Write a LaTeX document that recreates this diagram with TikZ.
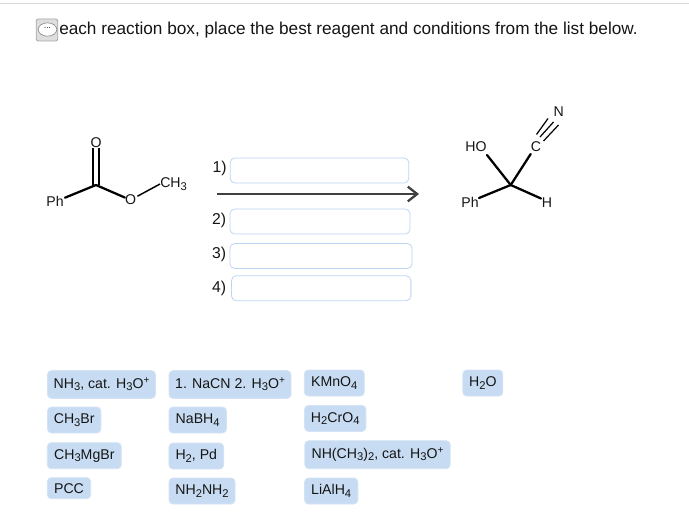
\documentclass[tikz,border=0pt]{standalone}
\usepackage{fontspec}
\setmainfont{Liberation Sans}
\usetikzlibrary{arrows.meta,calc,shapes.geometric}
\newcommand{\sbs}[1]{\raisebox{-0.32ex}{\fontsize{8.4}{9}\selectfont #1}}
\newcommand{\sps}[1]{\raisebox{0.62ex}{\fontsize{7.5}{9}\selectfont #1}}
\definecolor{chipfill}{HTML}{C7DCF2}
\definecolor{chipedge}{HTML}{D3E3F5}
\definecolor{boxedge}{HTML}{BBD7F2}
\definecolor{inktext}{HTML}{151515}
\tikzset{
  chip/.style={draw=chipedge,fill=chipfill,rounded corners=3pt,line width=0.6pt,inner sep=0pt,text=inktext,font=\fontsize{10.6}{12}\selectfont,anchor=center},
  slotbox/.style={draw=boxedge,fill=white,rounded corners=3.5pt,line width=0.6pt,inner sep=0pt,anchor=center},
  numlabel/.style={font=\fontsize{11.8}{13}\selectfont,text=inktext,inner sep=0pt,anchor=center},
  atom/.style={font=\fontsize{10.6}{11}\selectfont,text=inktext,inner sep=0pt,anchor=center},
  bond/.style={line width=1.7pt,draw=black},
  thinbond/.style={line width=0.9pt,draw=black},
  rxnarrow/.style={line width=1.7pt,draw=black!75,-{Straight Barb[length=7pt,width=11pt,line width=1.7pt]}},
}
\begin{document}
\begin{tikzpicture}[x=0.75pt,y=-0.75pt]
\useasboundingbox (0,0) rectangle (689,528);
\fill[white] (0,0) rectangle (689,528);
\fill[black!14] (0,3) rectangle (689,4.2);
% header icon
\node[draw=black!35,fill=black!13,rounded corners=1.5pt,line width=0.6pt,minimum width=16pt,minimum height=16.5pt,inner sep=0pt] (icon) at (47,30) {};
\node[draw=black!45,fill=white,ellipse,minimum width=14pt,minimum height=10pt,inner sep=0pt,line width=0.5pt,font=\fontsize{6}{6}\selectfont] (bubble) at (47.5,29.5) {\raisebox{0.6ex}{...}};
\node[anchor=base west,inner sep=0pt,font=\fontsize{12.9}{14}\selectfont,text=inktext] (title) at (59,34.5) {each reaction box, place the best reagent and conditions from the list below.};
% left molecule
\coordinate (cl) at (96,185);
\node[atom] (ph1) at (55,201) {Ph};
\node[atom] (otop) at (96,142.5) {O};
\node[atom] (oest) at (130.5,200) {O};
\node[atom,anchor=west] (ch3) at (160,184) {CH\sbs{3}};
\coordinate (ph1e) at (65,197.7);
\draw[bond,line cap=round] (ph1e) -- (cl);
\draw[bond,line cap=round] (cl) -- (oest);
\draw[thinbond,line width=1.1pt,shorten <=1pt] (oest) -- (ch3.west);
\draw[bond] ([xshift=-2.5pt]cl) -- ([xshift=-2.5pt]otop.south);
\draw[bond] ([xshift=2.5pt]cl) -- ([xshift=2.5pt]otop.south);
% right molecule
\coordinate (cr) at (510.7,185);
\node[atom] (ho) at (476,146.5) {HO};
\node[atom] (cn) at (536,146.5) {C};
\node[atom] (nn) at (558.7,112) {N};
\node[atom] (ph2) at (470,202) {Ph};
\node[atom] (hh) at (547,202.5) {H};
\coordinate (hoe) at (487,155);
\coordinate (cne) at (530.7,154);
\coordinate (ph2e) at (479,198);
\coordinate (hhe) at (541,198.5);
\draw[bond,line cap=round] (cr) -- (hoe);
\draw[bond,line cap=round] (cr) -- (cne);
\draw[bond,line cap=round] (cr) -- (ph2e);
\draw[bond,line cap=round] (cr) -- (hhe);
\coordinate (t1a) at (536.5,134.5);
\coordinate (t1b) at (548,118.5);
\coordinate (t2a) at (540,137);
\coordinate (t2b) at (553.5,122);
\coordinate (t3a) at (543.5,141);
\coordinate (t3b) at (558.5,125);
\draw[thinbond] (t1a) -- (t1b);
\draw[thinbond] (t2a) -- (t2b);
\draw[thinbond] (t3a) -- (t3b);
% reaction arrow and slots
\coordinate (arrs) at (217,194);
\coordinate (arre) at (419,194);
\draw[rxnarrow] (arrs) -- (arre);
\node[slotbox,minimum width=134pt,minimum height=18.7pt] (s1) at (319.5,170.5) {};
\node[slotbox,minimum width=135pt,minimum height=18.7pt] (s2) at (320,221.5) {};
\node[slotbox,minimum width=136.5pt,minimum height=18.7pt] (s3) at (321,256) {};
\node[slotbox,minimum width=134.5pt,minimum height=18.7pt] (s4) at (321.2,288.3) {};
\node[numlabel] (n1) at (219.5,168) {1)};
\node[numlabel] (n2) at (219,220.5) {2)};
\node[numlabel] (n3) at (219,254.5) {3)};
\node[numlabel] (n4) at (219,288.5) {4)};
% chips
\node[chip,minimum width=81pt,minimum height=20.8pt] (a1) at (101.5,384.5) {NH\sbs{3}, cat. H\sbs{3}O\sps{+}};
\node[chip,minimum width=91.5pt,minimum height=20.8pt] (b1) at (230,384.5) {1. NaCN 2. H\sbs{3}O\sps{+}};
\node[chip,minimum width=45pt,minimum height=19.5pt] (c1) at (334.3,383) {KMnO\sbs{4}};
\node[chip,minimum width=30pt,minimum height=19.5pt] (d1) at (482.8,383) {H\sbs{2}O};
\node[chip,minimum width=40pt,minimum height=19.5pt] (a2) at (74.2,420) {CH\sbs{3}Br};
\node[chip,minimum width=43pt,minimum height=19.5pt] (b2) at (197.7,420) {NaBH\sbs{4}};
\node[chip,minimum width=46pt,minimum height=19.5pt] (c2) at (335.2,418.4) {H\sbs{2}CrO\sbs{4}};
\node[chip,minimum width=55.5pt,minimum height=19.5pt] (a3) at (84.3,455.7) {CH\sbs{3}MgBr};
\node[chip,minimum width=41pt,minimum height=19.5pt] (b3) at (196.3,456) {H\sbs{2}, Pd};
\node[chip,minimum width=109pt,minimum height=21pt] (c3) at (377.5,454.7) {NH(CH\sbs{3})\sbs{2}, cat. H\sbs{3}O\sps{+}};
\node[chip,minimum width=32.5pt,minimum height=15.8pt] (a4) at (69,488.2) {PCC};
\node[chip,minimum width=49.5pt,minimum height=19.5pt] (b4) at (202,491) {NH\sbs{2}NH\sbs{2}};
\node[chip,minimum width=40pt,minimum height=19.5pt] (c4) at (331.2,491) {LiAlH\sbs{4}};
\end{tikzpicture}
\end{document}
